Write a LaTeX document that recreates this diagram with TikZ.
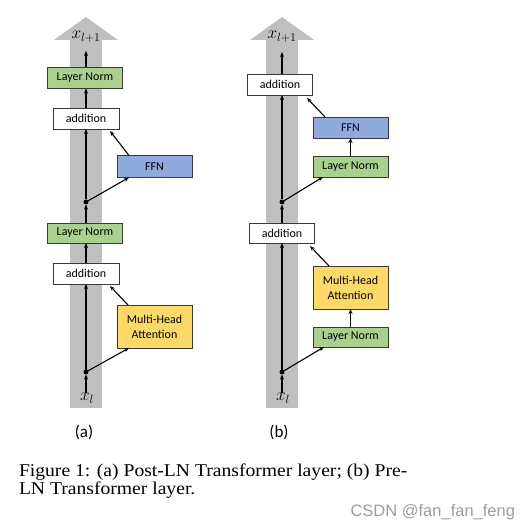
\documentclass[tikz,border=0pt]{standalone}
\usepackage{fontspec}
\setmainfont{Liberation Serif}
\newfontfamily\boxfont{Carlito}
\newfontfamily\wmfont{Liberation Sans}
\usetikzlibrary{arrows.meta}
\definecolor{lngreen}{HTML}{A9D18E}
\definecolor{ffnblue}{HTML}{8FAADC}
\definecolor{mhayellow}{HTML}{FFD966}
\definecolor{bargray}{HTML}{BFBFBF}
\definecolor{boxline}{HTML}{3A3A3A}
\tikzset{
  every node/.style={inner sep=0pt, outer sep=0pt},
  blk/.style={draw=boxline, line width=0.9pt, font=\boxfont\fontsize{12}{15}\selectfont, align=center},
  lnbox/.style={blk, fill=lngreen, minimum width=75pt, minimum height=21pt},
  addbox/.style={blk, fill=white, minimum width=66pt, minimum height=21pt},
  ffnbox/.style={blk, fill=ffnblue, minimum width=75pt, minimum height=22pt},
  mhabox/.style={blk, fill=mhayellow, minimum width=75pt, minimum height=43pt},
  flow/.style={line width=1.1pt, -{Stealth[length=5pt,width=4pt]}},
  dotc/.style={circle, fill=black, minimum size=5pt},
  xlab/.style={font=\fontsize{18.5}{20}\selectfont},
  bar/.style={fill=bargray, draw=none},
  captxt/.style={anchor=base west, font=\fontsize{18}{20}\selectfont},
}
\begin{document}
\begin{tikzpicture}[x=1pt,y=-1pt]
\useasboundingbox (0,0) rectangle (532,529);
\fill[white] (0,0) rectangle (532,529);
% ---------- (a) Post-LN ----------
\fill[bar] (70,40) rectangle (102,408);
\fill[bar] (54,40) -- (86,17) -- (118,40) -- cycle;
\node[xlab] (axl1) at (86,37) {$x_{l+1}$};
\node[lnbox] (aln2) at (85,78) {Layer Norm};
\node[addbox] (aadd2) at (86,118.5) {addition};
\node[ffnbox] (affn) at (154.5,166.5) {FFN};
\node[dotc] (adot2) at (86,202) {};
\node[lnbox, minimum height=20pt] (aln1) at (85,233) {Layer Norm};
\node[addbox] (aadd1) at (86,273.5) {addition};
\node[mhabox] (amha) at (154.5,326.5) {Multi-Head\\Attention};
\node[dotc] (adot1) at (86,372) {};
\node[xlab] (axl) at (87,398) {$x_l$};
\coordinate (atop) at (86,51);
\draw[flow] (axl.north -| adot1) -- (adot1);
\draw[flow] (adot1) -- (adot1 |- aadd1.south);
\draw[flow] (adot1) -- (amha.south west -| 129,0);
\draw[flow] (amha.north west -| 128,0) -- (110,286);
\draw[flow] (aadd1.north) -- (aadd1.north |- aln1.south);
\draw[flow] (aln1.north -| adot2) -- (adot2);
\draw[flow] (adot2) -- (adot2 |- aadd2.south);
\draw[flow] (adot2) -- (affn.south west -| 129,0);
\draw[flow] (affn.north west -| 129,0) -- (110,131);
\draw[flow] (aadd2.north) -- (aadd2.north |- aln2.south);
\draw[flow] (aln2.north -| atop) -- (atop);
\node[font=\boxfont\fontsize{17}{20}\selectfont] (alab) at (84,432) {(a)};
% ---------- (b) Pre-LN ----------
\fill[bar] (266,40) rectangle (298,408);
\fill[bar] (250,40) -- (282,17) -- (314,40) -- cycle;
\node[xlab] (bxl1) at (282,37) {$x_{l+1}$};
\node[addbox, minimum width=65pt] (badd2) at (280,84.5) {addition};
\node[ffnbox, minimum height=21pt] (bffn) at (350.5,127.5) {FFN};
\node[lnbox] (bln2) at (350.5,166.5) {Layer Norm};
\node[dotc] (bdot2) at (282,202) {};
\node[addbox, minimum width=65pt, minimum height=20pt] (badd1) at (282,233) {addition};
\node[mhabox] (bmha) at (350.5,287.5) {Multi-Head\\Attention};
\node[lnbox, minimum height=20pt] (bln1) at (350.5,337) {Layer Norm};
\node[dotc] (bdot1) at (282,372) {};
\node[xlab] (bxl) at (283,398) {$x_l$};
\coordinate (btop) at (282,52);
\draw[flow] (bxl.north -| bdot1) -- (bdot1);
\draw[flow] (bdot1) -- (bdot1 |- badd1.south);
\draw[flow] (bdot1) -- (bln1.south west -| 324,0);
\draw[flow] (bln1.north) -- (bmha.south);
\draw[flow] (bmha.north west -| 329,0) -- (310,246);
\draw[flow] (badd1.north -| bdot2) -- (bdot2);
\draw[flow] (bdot2) -- (bdot2 |- badd2.south);
\draw[flow] (bdot2) -- (bln2.south west -| 323,0);
\draw[flow] (bln2.north) -- (bffn.south);
\draw[flow] (bffn.north west -| 325,0) -- (307,98);
\draw[flow] (badd2.north -| btop) -- (btop);
\node[font=\boxfont\fontsize{17}{20}\selectfont] (blab) at (279,432) {(b)};
% ---------- caption ----------
\node[captxt] (cap1) at (19,476) {\scalebox{1.09}[1]{Figure 1: (a) Post-LN Transformer layer; (b) Pre-}};
\node[captxt] (cap2) at (19,494) {\scalebox{1.09}[1]{LN Transformer layer.}};
\node[anchor=base east, text=black!38, font=\wmfont\fontsize{16.5}{18}\selectfont] (wm) at (515,516) {CSDN @fan\_fan\_feng};
\end{tikzpicture}
\end{document}
